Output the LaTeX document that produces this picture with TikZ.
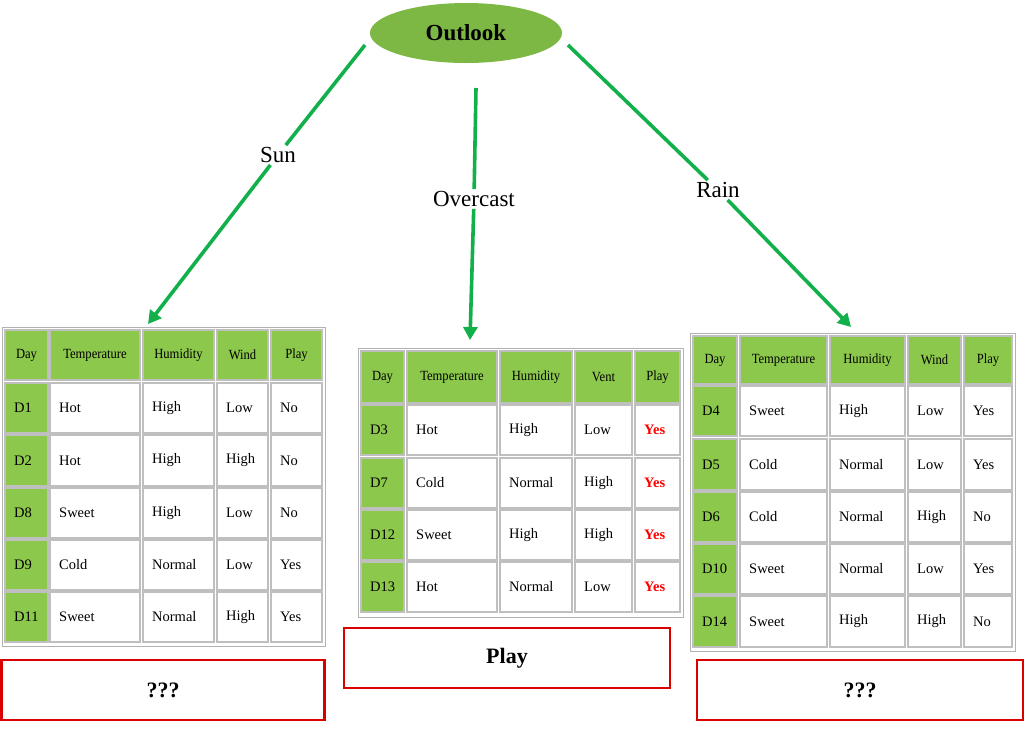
\documentclass[tikz,border=0pt]{standalone}
\usepackage{fontspec}
\setmainfont{Liberation Serif}
\usetikzlibrary{arrows.meta,shapes.geometric}
\definecolor{tgreen}{HTML}{8CC84B}
\definecolor{agreen}{HTML}{12B04A}
\definecolor{egreen}{HTML}{7DB845}
\tikzset{
 cellb/.style={draw=black!25,line width=1.2pt},
 ctext/.style={font=\fontsize{14.5}{16}\selectfont,inner sep=0pt},
 htext/.style={font=\fontsize{14}{16}\selectfont,inner sep=0pt,xscale=0.9},
 conn/.style={draw=agreen,line width=3.6pt,-{Triangle[length=13pt,width=14pt]}},
 plain/.style={draw=agreen,line width=3.6pt},
 lbl/.style={font=\fontsize{23}{27}\selectfont,fill=white,inner sep=2pt},
 rbox/.style={draw=red!85!black,line width=2.2pt,font=\fontsize{22}{26}\selectfont\bfseries},
 outer/.style={draw=black!30,line width=1pt,fill=white}
}
\newcommand\setcols[9]{\def\xA{#1}\def\xB{#2}\def\xC{#3}\def\xD{#4}\def\xE{#5}\def\xF{#6}\def\xG{#7}\def\xH{#8}\def\xI{#9}}
\newcommand\setlast[1]{\def\xJ{#1}}
\newcommand\hrow[7]{%
 \foreach \a/\b/\t in {\xA/\xB/{#3},\xC/\xD/{#4},\xE/\xF/{#5},\xG/\xH/{#6},\xI/\xJ/{#7}}{%
  \fill[tgreen] (\a,#1) rectangle (\b,#2); \draw[cellb] (\a,#1) rectangle (\b,#2);
  \node[htext] at ({(\a+\b)/2},{(#1+#2)/2}) {\t};}}
\newcommand\trow[7]{%
 \fill[tgreen] (\xA,#1) rectangle (\xB,#2);
 \foreach \a/\b/\t in {\xA/\xB/{#3},\xC/\xD/{#4},\xE/\xF/{#5},\xG/\xH/{#6},\xI/\xJ/{#7}}{%
  \draw[cellb] (\a,#1) rectangle (\b,#2);
  \node[ctext,anchor=west] at (\a+9,{(#1+#2)/2}) {\t};}}
\newcommand\Y{\textcolor{red}{\textbf{Yes}}}
\begin{document}
\begin{tikzpicture}[x=1pt,y=-1pt]
\useasboundingbox (0,0) rectangle (1026,729);
\fill[white] (0,0) rectangle (1026,729);
% root
\node[ellipse,fill=egreen,minimum width=192pt,minimum height=60pt,font=\fontsize{23}{27}\selectfont\bfseries] (outlook) at (466,33) {Outlook};
% tables
\draw[outer] (2,327) rectangle (325,646);
\coordinate (tl) at (148,324);
\setcols{5}{48}{50}{140}{143}{214}{217}{268}{271}\setlast{322}
\hrow{330}{380}{Day}{Temperature}{Humidity}{Wind}{Play}
\trow{383}{433}{D1}{Hot}{High}{Low}{No}
\trow{435}{486}{D2}{Hot}{High}{High}{No}
\trow{488}{538}{D8}{Sweet}{High}{Low}{No}
\trow{540}{590}{D9}{Cold}{Normal}{Low}{Yes}
\trow{592}{642}{D11}{Sweet}{Normal}{High}{Yes}

\draw[outer] (358,348) rectangle (683,617);
\coordinate (tm) at (470,340);
\setcols{361}{404}{407}{497}{500}{572}{575}{632}{635}\setlast{680}
\hrow{351}{403}{Day}{Temperature}{Humidity}{Vent}{Play}
\trow{405}{455}{D3}{Hot}{High}{Low}{\Y}
\trow{458}{508}{D7}{Cold}{Normal}{High}{\Y}
\trow{510}{560}{D12}{Sweet}{High}{High}{\Y}
\trow{562}{612}{D13}{Hot}{Normal}{Low}{\Y}

\draw[outer] (690,333) rectangle (1015,651);
\coordinate (tr) at (851,327);
\setcols{693}{737}{740}{827}{830}{905}{908}{961}{964}\setlast{1012}
\hrow{336}{384}{Day}{Temperature}{Humidity}{Wind}{Play}
\trow{386}{436}{D4}{Sweet}{High}{Low}{Yes}
\trow{439}{490}{D5}{Cold}{Normal}{Low}{Yes}
\trow{492}{542}{D6}{Cold}{Normal}{High}{No}
\trow{544}{594}{D10}{Sweet}{Normal}{Low}{Yes}
\trow{596}{647}{D14}{Sweet}{High}{High}{No}
% result boxes
\node[rbox,minimum width=323pt,minimum height=60pt] (r1) at (163,690) {???};
\node[rbox,minimum width=326pt,minimum height=60pt] (r2) at (507,658) {Play};
\node[rbox,minimum width=326pt,minimum height=60pt] (r3) at (860,690) {???};
% labels and connectors
\node[lbl] (sun) at (278,155) {Sun};
\node[lbl] (over) at (474,199) {Overcast};
\node[lbl] (rain) at (718,190) {Rain};
\coordinate (o1) at (365,45);
\coordinate (o2) at (476,88);
\coordinate (o3) at (568,45);
\draw[plain] (o1) -- (sun);
\draw[conn] (sun) -- (tl);
\draw[plain] (o2) -- (over);
\draw[conn] (over) -- (tm);
\draw[plain] (o3) -- (rain);
\draw[conn] (rain) -- (tr);
\end{tikzpicture}
\end{document}
